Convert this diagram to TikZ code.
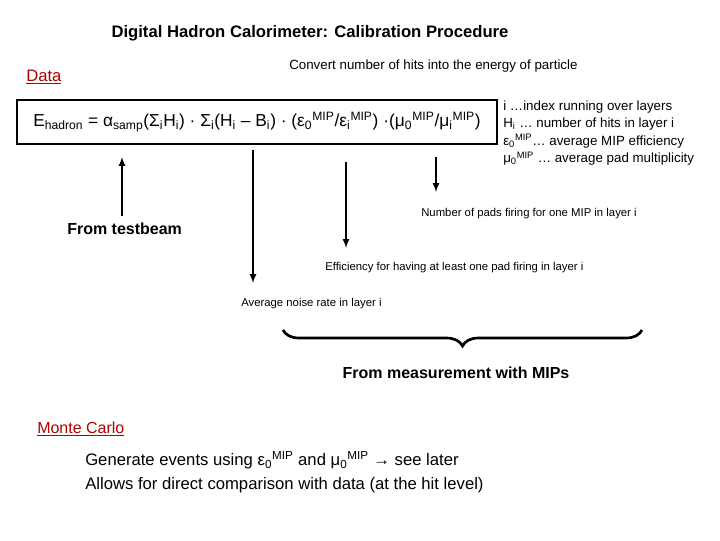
\documentclass[tikz,border=0pt]{standalone}
\usepackage{fontspec}
\setmainfont{Liberation Sans}
\usetikzlibrary{decorations.pathreplacing}
\newcommand{\fs}[1]{\fontsize{#1}{#1}\selectfont}
\begin{document}
\begin{tikzpicture}[x=0.75pt,y=-0.75pt,
  lbl/.style={inner sep=0pt,anchor=west},
  arr/.style={line width=1.3pt,-latex}]
\useasboundingbox (0,0) rectangle (720,540);
\node[inner sep=0pt] (title) at (310,33) {\fs{12.5}\bfseries Digital Hadron Calorimeter: Calibration Procedure};
\node[lbl,text=red!70!black] (data) at (26,77) {\fs{12.5}\underline{Data}};
\node[lbl] (conv) at (289,66) {\fs{10}Convert number of hits into the energy of particle};
\node[draw,line width=1.5pt,minimum width=360pt,minimum height=33pt,inner sep=0pt] (eq) at (257,122)
 {\fs{13}E\textsubscript{hadron} = α\textsubscript{samp}(Σ\textsubscript{i}H\textsubscript{i}) · Σ\textsubscript{i}(H\textsubscript{i} – B\textsubscript{i}) · (ε\textsubscript{0}\textsuperscript{MIP}/ε\textsubscript{i}\textsuperscript{MIP}) ·(μ\textsubscript{0}\textsuperscript{MIP}/μ\textsubscript{i}\textsuperscript{MIP})};
\node[lbl,align=left] (legend) at (503,134) {\fs{10}\begin{tabular}{@{}l@{}}i …index running over layers\\[2pt]
 H\textsubscript{i} … number of hits in layer i\\[2pt]
 ε\textsubscript{0}\textsuperscript{MIP}… average MIP efficiency\\[2pt]
 μ\textsubscript{0}\textsuperscript{MIP} … average pad multiplicity\end{tabular}};
\node[lbl] (tb) at (67,229) {\fs{12}\bfseries From testbeam};
\node[lbl] (pads) at (421,214) {\fs{8.5}Number of pads firing for one MIP in layer i};
\node[lbl] (eff) at (325,268) {\fs{8.5}Efficiency for having at least one pad firing in layer i};
\node[lbl] (noise) at (241,304) {\fs{8.5}Average noise rate in layer i};
\node[inner sep=0pt] (mips) at (456,373) {\fs{12}\bfseries From measurement with MIPs};
\node[lbl,text=red!70!black] (mc) at (37,429) {\fs{12}\underline{Monte Carlo}};
\node[lbl,align=left] (gen) at (85,473) {\fs{12.5}\begin{tabular}{@{}l@{}}Generate events using ε\textsubscript{0}\textsuperscript{MIP} and μ\textsubscript{0}\textsuperscript{MIP} → see later\\[5pt]Allows for direct comparison with data (at the hit level)\end{tabular}};
\coordinate (a1) at (122,216);
\draw[arr] (a1) -- (122,157);
\coordinate (a2) at (253,150);
\draw[arr] (a2) -- (253,283);
\coordinate (a3) at (346,162);
\draw[arr] (a3) -- (346,248);
\coordinate (a4) at (436,157);
\draw[arr] (a4) -- (436,192);
\coordinate (b1) at (642,330);
\coordinate (b2) at (283,330);
\draw[line width=2pt,decorate,decoration={brace,amplitude=12pt}] (b1) -- (b2);
\end{tikzpicture}
\end{document}
